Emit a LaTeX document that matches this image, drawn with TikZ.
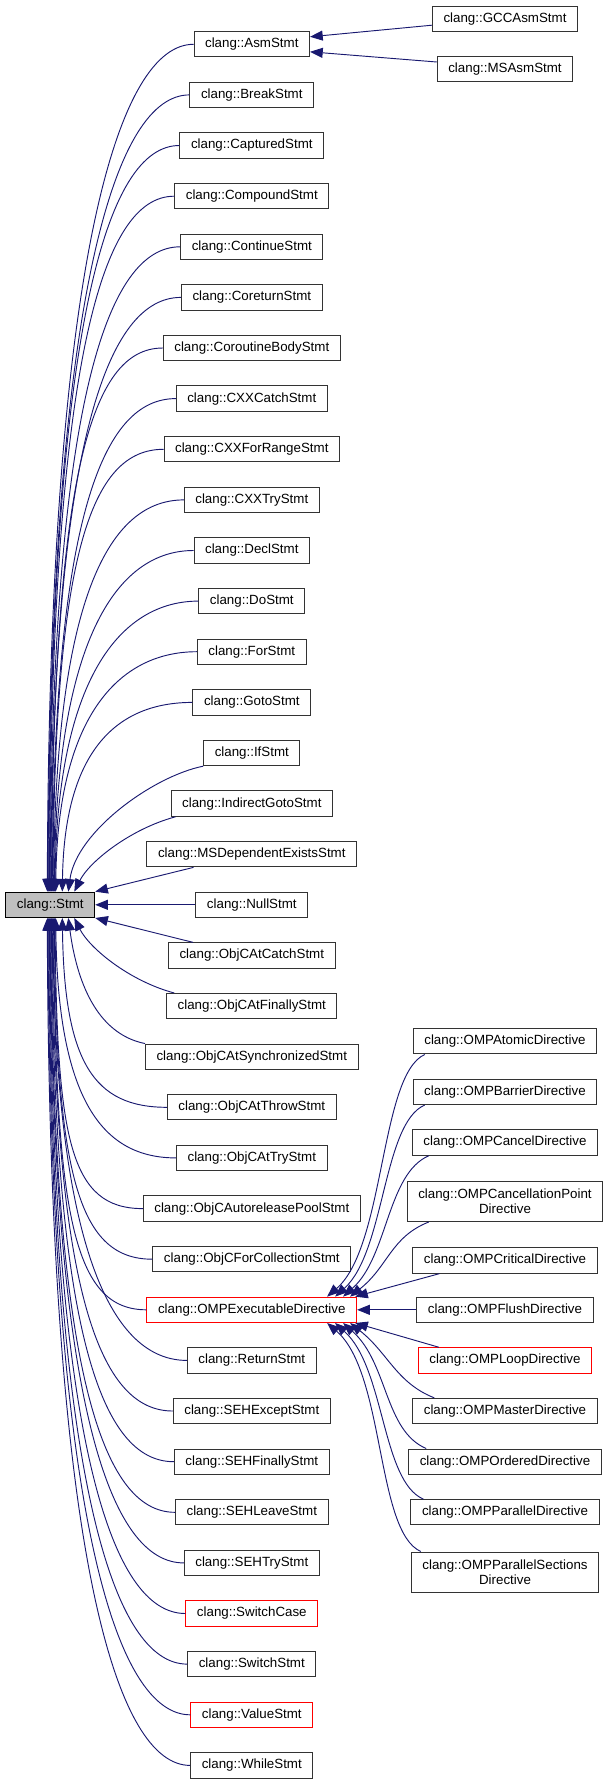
\documentclass[tikz,border=0pt]{standalone}
\usepackage{fontspec}
\setmainfont{Liberation Sans}
\usetikzlibrary{arrows.meta,calc}
\definecolor{edgeblue}{RGB}{25,25,112}
\definecolor{basegray}{RGB}{191,191,191}

\begin{document}
\begin{tikzpicture}[x=0.75pt,y=-0.75pt,>={Triangle[length=9.5pt,width=7.5pt]},
  cls/.style={draw=black!80,line width=0.75pt,fill=white,inner xsep=8.3pt,inner ysep=2pt,minimum height=19pt},
  hub/.style={cls,draw=black,fill=basegray},
  redcls/.style={cls,draw=red},
  twoline/.style={align=center,minimum height=30pt,font=\fontsize{10}{11}\selectfont},
  dep/.style={->,draw=edgeblue,line width=0.7pt}]
\useasboundingbox (0,0) rectangle (608,1785);

% base class
\node[hub] (stmt) at (50.3,904.8) {clang::Stmt};

% direct subclasses
\node[cls] (asm) at (251.8,44.3) {clang::AsmStmt};
\node[cls] (brk) at (251.8,94.9) {clang::BreakStmt};
\node[cls] (capt) at (251.8,145.5) {clang::CapturedStmt};
\node[cls] (comp) at (251.8,196.2) {clang::CompoundStmt};
\node[cls] (cont) at (251.8,246.8) {clang::ContinueStmt};
\node[cls] (coret) at (251.8,297.4) {clang::CoreturnStmt};
\node[cls] (corob) at (251.8,348.0) {clang::CoroutineBodyStmt};
\node[cls] (cxxcatch) at (251.8,398.6) {clang::CXXCatchStmt};
\node[cls] (cxxfor) at (251.8,449.3) {clang::CXXForRangeStmt};
\node[cls] (cxxtry) at (251.8,499.9) {clang::CXXTryStmt};
\node[cls] (decl) at (251.8,550.5) {clang::DeclStmt};
\node[cls] (dostmt) at (251.8,601.1) {clang::DoStmt};
\node[cls] (forstmt) at (251.8,651.7) {clang::ForStmt};
\node[cls] (gotostmt) at (251.8,702.4) {clang::GotoStmt};
\node[cls] (ifstmt) at (251.8,753.0) {clang::IfStmt};
\node[cls] (igoto) at (251.8,803.6) {clang::IndirectGotoStmt};
\node[cls] (msdep) at (251.8,854.2) {clang::MSDependentExistsStmt};
\node[cls] (null) at (251.8,904.8) {clang::NullStmt};
\node[cls] (atcatch) at (251.8,955.5) {clang::ObjCAtCatchStmt};
\node[cls] (atfin) at (251.8,1006.1) {clang::ObjCAtFinallyStmt};
\node[cls] (atsync) at (251.8,1056.7) {clang::ObjCAtSynchronizedStmt};
\node[cls] (atthrow) at (251.8,1107.3) {clang::ObjCAtThrowStmt};
\node[cls] (attry) at (251.8,1157.9) {clang::ObjCAtTryStmt};
\node[cls] (arpool) at (251.8,1208.6) {clang::ObjCAutoreleasePoolStmt};
\node[cls] (forcoll) at (251.8,1259.2) {clang::ObjCForCollectionStmt};
\node[redcls] (ompexec) at (251.8,1309.8) {clang::OMPExecutableDirective};
\node[cls] (ret) at (251.8,1360.4) {clang::ReturnStmt};
\node[cls] (sehexc) at (251.8,1411.0) {clang::SEHExceptStmt};
\node[cls] (sehfin) at (251.8,1461.7) {clang::SEHFinallyStmt};
\node[cls] (sehlv) at (251.8,1512.3) {clang::SEHLeaveStmt};
\node[cls] (sehtry) at (251.8,1562.9) {clang::SEHTryStmt};
\node[redcls] (swcase) at (251.8,1613.5) {clang::SwitchCase};
\node[cls] (swstmt) at (251.8,1664.1) {clang::SwitchStmt};
\node[redcls] (valstmt) at (251.8,1714.8) {clang::ValueStmt};
\node[cls] (whilestmt) at (251.8,1765.4) {clang::WhileStmt};

% second level
\node[cls] (gcc) at (505,18.7) {clang::GCCAsmStmt};
\node[cls] (msasm) at (505,69.3) {clang::MSAsmStmt};
\node[cls] (atomic) at (505,1041.3) {clang::OMPAtomicDirective};
\node[cls] (barrier) at (505,1091.9) {clang::OMPBarrierDirective};
\node[cls] (cancel) at (505,1142.5) {clang::OMPCancelDirective};
\node[cls,twoline] (cpoint) at (505,1201.5) {clang::OMPCancellationPoint\\Directive};
\node[cls] (crit) at (505,1260.5) {clang::OMPCriticalDirective};
\node[cls] (flush) at (505,1309.8) {clang::OMPFlushDirective};
\node[redcls] (loop) at (505,1360.4) {clang::OMPLoopDirective};
\node[cls] (master) at (505,1411.0) {clang::OMPMasterDirective};
\node[cls] (ordered) at (505,1461.7) {clang::OMPOrderedDirective};
\node[cls] (parallel) at (505,1512.3) {clang::OMPParallelDirective};
\node[cls,twoline] (psect) at (505,1572) {clang::OMPParallelSections\\Directive};

% edges into clang::Stmt, above it
\foreach \n/\r/\d in {asm/0/-3, brk/1/-2.3, capt/2/-1.6, comp/3/-0.9, cont/4/-0.2,
    coret/5/0.5, corob/6/1.2, cxxcatch/7/1.9, cxxfor/8/2.6, cxxtry/9/3.3,
    decl/10/4, dostmt/11/4.7, forstmt/12/5.4, gotostmt/13/12}
{
  \pgfmathsetmacro\h{0.76*(848-50.62*\r)}
  \draw[dep] (\n.west) .. controls +(-73,0) and +(2,-\h) .. ($(stmt.north)+(\d,0)$);
}
\draw[dep] (ifstmt.south west) .. controls +(-50,10) and +(8,-60) .. ($(stmt.north)+(18,0)$);
\draw[dep] ($(igoto.south west)+(5,0)$) .. controls +(-45,12) and +(15,-30) .. ($(stmt.north)+(24,0)$);
\draw[dep] ($(msdep.south west)+(47,0)$) -- (stmt.north east);
\draw[dep] (null.west) -- (stmt.east);
\draw[dep] ($(atcatch.north west)+(25,0)$) -- (stmt.south east);

% edges into clang::Stmt, below it
\draw[dep] ($(atfin.north west)+(8,0)$) .. controls +(-45,-12) and +(15,30) .. ($(stmt.south)+(24,0)$);
\draw[dep] (atsync.north west) .. controls +(-50,-10) and +(8,60) .. ($(stmt.south)+(18,0)$);
\foreach \n/\r/\d in {atthrow/21/12, attry/22/5.4, arpool/23/4.7, forcoll/24/4,
    ompexec/25/3.3, ret/26/2.6, sehexc/27/1.9, sehfin/28/1.2, sehlv/29/0.5,
    sehtry/30/-0.2, swcase/31/-0.9, swstmt/32/-1.6, valstmt/33/-2.3, whilestmt/34/-3}
{
  \pgfmathsetmacro\h{0.76*(50.62*\r-873)}
  \draw[dep] (\n.west) .. controls +(-73,0) and +(2,\h) .. ($(stmt.south)+(\d,0)$);
}

% clang::AsmStmt
\draw[dep] ($(gcc.west)+(0,6.5)$) -- ($(asm.east)+(0,-7.5)$);
\draw[dep] ($(msasm.west)+(0,-7.3)$) -- ($(asm.east)+(0,7.5)$);

% clang::OMPExecutableDirective
\draw[dep] ($(atomic.south west)+(12,0)$) .. controls +(-45,20) and +(58,-50) .. ($(ompexec.north east)+(-30,0)$);
\draw[dep] ($(barrier.south west)+(12,0)$) .. controls +(-42,18) and +(50,-45) .. ($(ompexec.north east)+(-22,0)$);
\draw[dep] ($(cancel.south west)+(17,0)$) .. controls +(-42,18) and +(45,-40) .. ($(ompexec.north east)+(-14,0)$);
\draw[dep] ($(cpoint.south west)+(22,0)$) .. controls +(-38,15) and +(38,-30) .. ($(ompexec.north east)+(-7,0)$);
\draw[dep] ($(crit.south west)+(27,0)$) -- ($(ompexec.north east)+(-2,0)$);
\draw[dep] (flush.west) -- (ompexec.east);
\draw[dep] ($(loop.north west)+(21,0)$) -- ($(ompexec.south east)+(-2,0)$);
\draw[dep] ($(master.north west)+(22,0)$) .. controls +(-38,-15) and +(38,30) .. ($(ompexec.south east)+(-7,0)$);
\draw[dep] ($(ordered.north west)+(18,0)$) .. controls +(-42,-18) and +(45,40) .. ($(ompexec.south east)+(-14,0)$);
\draw[dep] ($(parallel.north west)+(13,0)$) .. controls +(-42,-18) and +(50,45) .. ($(ompexec.south east)+(-22,0)$);
\draw[dep] ($(psect.north west)+(10,0)$) .. controls +(-45,-20) and +(58,50) .. ($(ompexec.south east)+(-30,0)$);
\end{tikzpicture}
\end{document}
